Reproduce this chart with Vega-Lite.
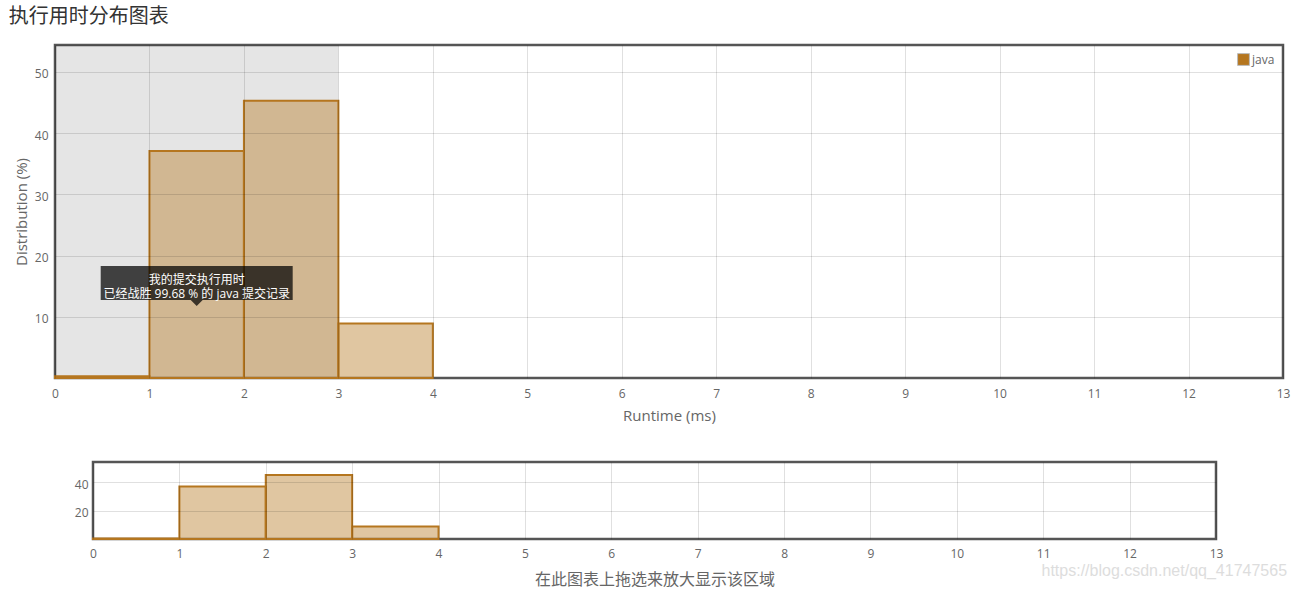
{
  "$schema": "https://vega.github.io/schema/vega-lite/v6.json",
  "padding": {"left": 8, "top": 6, "right": 5, "bottom": 0},
  "title": {"text": "执行用时分布图表", "anchor": "start", "frame": "bounds", "fontSize": 20, "font": "Open Sans, Noto Sans CJK SC", "color": "#333", "fontWeight": "normal", "offset": 17},
  "datasets": {
    "runtime": [
      {"start": 0, "end": 1, "pct": 0.3},
      {"start": 1, "end": 2, "pct": 37.1},
      {"start": 2, "end": 3, "pct": 45.3},
      {"start": 3, "end": 4, "pct": 8.9}
    ]
  },
  "config": {
    "font": "Open Sans, Noto Sans CJK SC",
    "view": {"stroke": "#555", "strokeWidth": 2.5},
    "axis": {
      "labelFont": "Open Sans, Noto Sans CJK SC",
      "labelFontSize": 12,
      "labelColor": "#666",
      "titleFont": "Open Sans, Noto Sans CJK SC",
      "titleFontSize": 15,
      "titleColor": "#666",
      "titleFontWeight": "normal",
      "ticks": false,
      "domain": false,
      "gridColor": "#000",
      "gridOpacity": 0.12,
      "labelFlush": false,
      "format": "d"
    },
    "legend": {
      "orient": "top-right",
      "offset": 8,
      "labelFont": "Open Sans",
      "labelFontSize": 12,
      "labelColor": "#666",
      "symbolType": "square",
      "symbolSize": 140,
      "symbolOpacity": 1,
      "symbolStrokeColor": "#bbb",
      "symbolStrokeWidth": 1,
      "labelOffset": 2,
      "padding": 0
    }
  },
  "spacing": 35,
  "resolve": {"scale": {"color": "independent"}, "legend": {"color": "independent"}},
  "vconcat": [
    {
      "width": 1228,
      "height": 333,
      "layer": [
        {
          "data": {"values": [{}]},
          "mark": {"type": "rect", "color": "#000", "opacity": 0.1},
          "encoding": {
            "x": {"datum": 0, "type": "quantitative", "scale": {"domain": [0, 13], "nice": false}},
            "x2": {"datum": 3}
          }
        },
        {
          "data": {"name": "runtime"},
          "mark": {"type": "rect", "fillOpacity": 0.42, "stroke": "#b5761f", "strokeWidth": 2, "strokeOpacity": 1},
          "encoding": {
            "x": {"field": "start", "type": "quantitative", "scale": {"domain": [0, 13], "nice": false},
              "axis": {"values": [0,1,2,3,4,5,6,7,8,9,10,11,12,13], "title": "Runtime (ms)", "labelPadding": 10, "titlePadding": 9, "zindex": 1, "grid": true}},
            "x2": {"field": "end"},
            "y": {"field": "pct", "type": "quantitative", "scale": {"domain": [0, 54.4], "nice": false},
              "axis": {"values": [10, 20, 30, 40, 50], "title": "Distribution (%)", "labelPadding": 7, "labelOffset": 2, "titleX": -26, "minExtent": 45, "zindex": 1, "grid": true}},
            "y2": {"datum": 0},
            "color": {"datum": "java", "type": "nominal", "scale": {"range": ["#b5761f"]}, "legend": {"title": null}}
          }
        },
        {
          "data": {"values": [{"kind": "tooltip"}]},
          "mark": {"type": "point", "shape": "M-96,-17H96V17H6L0,23L-6,17H-96Z", "size": 4, "filled": true, "fill": "#000", "fillOpacity": 0.72, "strokeWidth": 0},
          "encoding": {
            "x": {"datum": 1.5, "type": "quantitative", "scale": {"domain": [0, 13], "nice": false}},
            "y": {"datum": 15.5, "type": "quantitative", "scale": {"domain": [0, 54.4], "nice": false}}
          }
        },
        {
          "data": {"values": [{"label": ["我的提交执行用时", "已经战胜 99.68 % 的 java 提交记录"]}]},
          "mark": {"type": "text", "color": "#fff", "fontSize": 12, "lineHeight": 14, "align": "center", "baseline": "middle", "dy": -3, "font": "Open Sans, Noto Sans CJK SC"},
          "encoding": {
            "x": {"datum": 1.5, "type": "quantitative", "scale": {"domain": [0, 13], "nice": false}},
            "y": {"datum": 15.5, "type": "quantitative", "scale": {"domain": [0, 54.4], "nice": false}},
            "text": {"field": "label"}
          }
        }
      ]
    },
    {
      "spacing": 0,
      "hconcat": [
        {
          "width": 18,
          "height": 77,
          "view": {"stroke": null},
          "data": {"values": []},
          "mark": "point"
        },
        {
          "width": 1123,
          "height": 77,
          "layer": [
            {
              "data": {"name": "runtime"},
              "mark": {"type": "rect", "fill": "#b5761f", "fillOpacity": 0.42, "stroke": "#b5761f", "strokeWidth": 2},
              "encoding": {
                "x": {"field": "start", "type": "quantitative", "scale": {"domain": [0, 13], "nice": false},
                  "axis": {"values": [0,1,2,3,4,5,6,7,8,9,10,11,12,13], "title": "在此图表上拖选来放大显示该区域", "titleFontSize": 16, "labelPadding": 9, "titlePadding": 12, "zindex": 1, "grid": true}},
                "x2": {"field": "end"},
                "y": {"field": "pct", "type": "quantitative", "scale": {"domain": [0, 54.4], "nice": false},
                  "axis": {"values": [20, 40], "title": null, "labelPadding": 5, "labelOffset": 2, "zindex": 1, "grid": true}},
                "y2": {"datum": 0}
              }
            },
            {
              "data": {"values": [{"text": "https://blog.csdn.net/qq_41747565"}]},
              "mark": {"type": "text", "color": "#ddd", "fontSize": 16, "font": "Liberation Sans", "align": "left", "baseline": "middle"},
              "encoding": {
                "x": {"datum": 10.98, "type": "quantitative", "scale": {"domain": [0, 13], "nice": false}},
                "y": {"datum": -22.4, "type": "quantitative", "scale": {"domain": [0, 54.4], "nice": false}},
                "text": {"field": "text"}
              }
            }
          ]
        }
      ]
    }
  ]
}
